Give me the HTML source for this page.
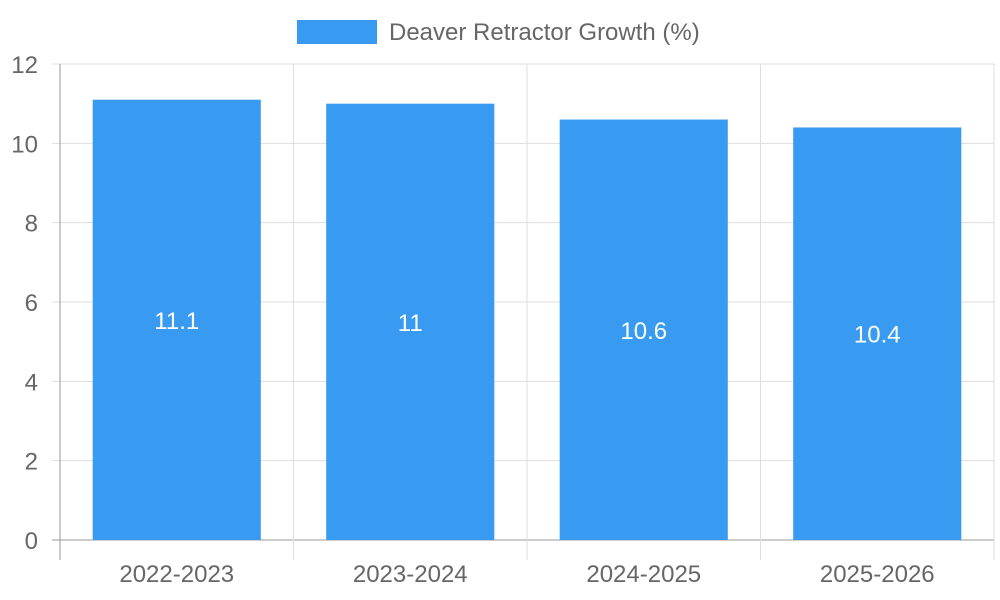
<!DOCTYPE html>
<html><head><meta charset="utf-8"><style>
html,body{margin:0;padding:0;background:#fff;width:1000px;height:600px;overflow:hidden}
svg{display:block;font-family:"Liberation Sans",sans-serif}
</style></head><body>
<svg id="c" width="1000" height="600"></svg>
<script>
const categories=["2022-2023","2023-2024","2024-2025","2025-2026"];
const values=[11.1,11,10.6,10.4];
const yTicks=[0,2,4,6,8,10,12];
const seriesName="Deaver Retractor Growth (%)";

const NS="http://www.w3.org/2000/svg";
const svg=document.getElementById('c');
const L=60,R=994,T=64,B=540,yMax=12;
const bw=(R-L)/categories.length;
const y=v=>B-(v/yMax)*(B-T);
const xc=i=>L+bw*(i+0.5);
function mk(tag,attrs,parent){const e=document.createElementNS(NS,tag);for(const k in attrs)e.setAttribute(k,attrs[k]);(parent||svg).appendChild(e);return e;}

const lg=mk('g',{});


mk('rect',{x:297,y:20,width:80,height:24,fill:'#389bf1'},lg);
const lt=mk('text',{x:389,y:40,'font-size':24,fill:'#666'},lg);lt.textContent=seriesName;

yTicks.forEach(t=>{
  const g=mk('line',{x1:52,x2:R,y1:y(t),y2:y(t),stroke:t===0?'#999':'#ddd','stroke-width':1});
  
  
  const tx=mk('text',{x:38,y:y(t)+9,'font-size':24,fill:'#666','text-anchor':'end'});
  tx.textContent=t;
  
  
});
for(let i=0;i<=categories.length;i++){
  const xx=L+bw*i;
  const g=mk('line',{x1:xx,x2:xx,y1:T,y2:560,stroke:i===0?'#999':'#ddd','stroke-width':1});
  
  
}
categories.forEach((c,i)=>{
  const w=bw*0.72;
  const r=mk('rect',{x:xc(i)-w/2,y:y(values[i]),width:w,height:B-y(values[i]),fill:'#389bf1'});
  
  
  const v=mk('text',{x:xc(i),y:(y(values[i])+B)/2+9,'font-size':24,fill:'#fff','text-anchor':'middle'});
  v.textContent=values[i];
  
  
  const xl=mk('text',{x:xc(i),y:582,'font-size':24,fill:'#666','text-anchor':'middle'});
  xl.textContent=c;
  
  
});
</script>
</body></html>
